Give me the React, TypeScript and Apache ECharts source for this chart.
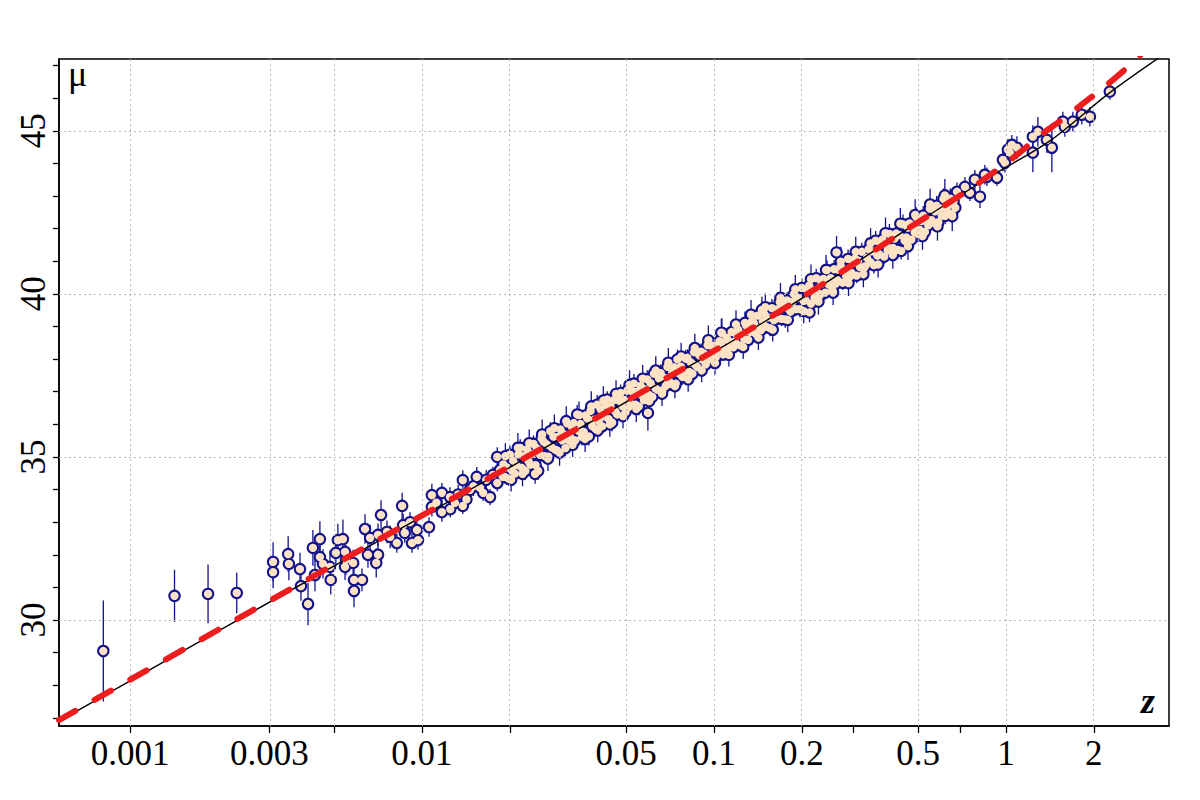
import React, { useEffect, useRef } from "react";
import * as echarts from "echarts";

// ---- data: [z, mu, sigma_mu] ----
const lowZ: number[][] = [
  [0.00081, 29.05, 1.55], [0.00142, 30.74, 0.8], [0.00185, 30.8, 0.9], [0.00232, 30.83, 0.62],
  [0.00309, 31.78, 0.6], [0.00309, 31.47, 0.5], [0.00348, 32.02, 0.55], [0.0035, 31.72, 0.5],
  [0.00382, 31.56, 0.5], [0.00385, 31.04, 0.45], [0.00407, 30.49, 0.65], [0.00423, 32.21, 0.55],
  [0.00447, 32.48, 0.55], [0.00447, 31.93, 0.5], [0.00458, 31.72, 0.45], [0.0043, 31.38, 0.5],
  [0.00484, 31.63, 0.5], [0.00487, 31.23, 0.45], [0.00515, 32.45, 0.5], [0.00536, 32.48, 0.6],
  [0.00507, 32.06, 0.4], [0.00545, 32.09, 0.4], [0.00549, 31.84, 0.45], [0.00545, 31.63, 0.4],
  [0.00581, 31.75, 0.4], [0.00585, 31.23, 0.4], [0.00585, 30.89, 0.5], [0.00623, 31.23, 0.35],
  [0.00638, 32.79, 0.45], [0.00664, 32.52, 0.4], [0.00653, 32.0, 0.4], [0.00707, 32.0, 0.35],
  [0.00697, 31.75, 0.45], [0.00724, 33.22, 0.45], [0.00707, 32.61, 0.35], [0.00759, 32.7, 0.35],
  [0.00778, 32.55, 0.35], [0.0082, 32.36, 0.3], [0.00855, 33.5, 0.4], [0.00862, 32.91, 0.35],
  [0.00873, 32.67, 0.3], [0.00924, 32.36, 0.3], [0.0091, 33.0, 0.3], [0.00961, 32.76, 0.35],
  [0.00969, 32.45, 0.3], [0.01057, 32.85, 0.3], [0.01081, 33.83, 0.35], [0.01081, 33.47, 0.3],
  [0.0112, 33.6, 0.3], [0.0117, 33.9, 0.3], [0.0117, 33.31, 0.3], [0.0125, 33.4, 0.25],
  [0.01247, 33.77, 0.3], [0.01297, 33.59, 0.25], [0.0133, 33.85, 0.3], [0.0138, 33.5, 0.25],
  [0.0138, 34.29, 0.3], [0.0142, 33.7, 0.25], [0.0146, 33.99, 0.25], [0.015, 34.1, 0.3],
  [0.0154, 34.39, 0.3], [0.0158, 34.05, 0.25], [0.0162, 33.9, 0.25], [0.0166, 34.3, 0.3],
  [0.0171, 33.77, 0.25], [0.0175, 34.45, 0.25], [0.0181, 35.0, 0.3], [0.0181, 34.2, 0.25],
  [0.0185, 34.6, 0.3], [0.0189, 34.39, 0.25],
];

const band1: number[][] = [
  [0.019, 34.77, 0.22], [0.0192, 34.39, 0.18], [0.0195, 34.68, 0.25], [0.0198, 34.33, 0.2],
  [0.02, 35.07, 0.28], [0.0203, 34.59, 0.16], [0.0205, 34.89, 0.2], [0.0208, 34.49, 0.24],
  [0.0211, 34.75, 0.18], [0.0214, 35.08, 0.3], [0.0217, 35.28, 0.26], [0.022, 34.66, 0.2],
  [0.0223, 35.02, 0.22], [0.0226, 34.57, 0.28], [0.0229, 35.23, 0.3], [0.0232, 34.86, 0.17],
  [0.0235, 34.76, 0.21], [0.0238, 35.09, 0.24], [0.0241, 35.4, 0.26], [0.0244, 34.48, 0.3],
  [0.0247, 35.27, 0.19], [0.025, 34.57, 0.27], [0.0254, 35.06, 0.22], [0.0257, 35.56, 0.25],
  [0.0261, 35.47, 0.28], [0.0264, 35.02, 0.18], [0.0268, 35.38, 0.2], [0.0271, 35.01, 0.23],
  [0.0275, 35.79, 0.27], [0.0278, 35.29, 0.19], [0.0282, 35.62, 0.24], [0.0286, 35.22, 0.21],
  [0.029, 35.2, 0.18], [0.0294, 35.62, 0.26], [0.0298, 35.84, 0.3], [0.0302, 35.51, 0.17],
  [0.0306, 35.7, 0.22], [0.031, 35.27, 0.25], [0.0314, 36.03, 0.27], [0.0318, 35.5, 0.2],
  [0.0322, 35.61, 0.18], [0.0326, 35.93, 0.23], [0.0331, 36.04, 0.25], [0.0335, 35.51, 0.21],
  [0.034, 36.3, 0.29], [0.0344, 35.8, 0.18], [0.0349, 36.01, 0.2], [0.0353, 35.61, 0.26],
  [0.0358, 35.77, 0.22], [0.0363, 36.27, 0.24], [0.0368, 36.18, 0.19], [0.0373, 35.63, 0.28],
  [0.0378, 36.41, 0.26], [0.0383, 35.94, 0.2], [0.0388, 36.14, 0.21], [0.0393, 35.86, 0.23],
  [0.0398, 36.6, 0.3], [0.0403, 36.1, 0.18], [0.0409, 36.46, 0.24], [0.0414, 35.94, 0.22],
  [0.042, 36.24, 0.18], [0.0425, 36.6, 0.27], [0.0431, 36.76, 0.25], [0.0436, 36.16, 0.2],
  [0.0442, 36.55, 0.22], [0.0448, 36.05, 0.26], [0.0454, 36.74, 0.28], [0.046, 36.39, 0.17],
  [0.0466, 36.3, 0.2], [0.0472, 36.73, 0.24], [0.0479, 36.96, 0.26], [0.0485, 36.56, 0.19],
  [0.0492, 36.75, 0.21], [0.0498, 36.37, 0.25], [0.0505, 37.03, 0.27], [0.0511, 36.53, 0.2],
  [0.0518, 36.64, 0.18], [0.0525, 37.01, 0.23], [0.0532, 37.25, 0.29], [0.0539, 36.6, 0.22],
  [0.0546, 37.0, 0.2], [0.0553, 36.55, 0.27], [0.0561, 37.18, 0.24], [0.0568, 36.88, 0.18],
  [0.0576, 36.74, 0.21], [0.0583, 37.07, 0.25], [0.0591, 37.38, 0.28], [0.0599, 36.9, 0.19],
  [0.0607, 37.26, 0.22], [0.0615, 36.84, 0.24], [0.0623, 37.55, 0.27], [0.0631, 37.1, 0.18],
  [0.064, 37.06, 0.2], [0.0648, 37.41, 0.23], [0.0657, 37.57, 0.26], [0.0666, 37.04, 0.22],
  [0.0675, 37.43, 0.19], [0.0684, 37.18, 0.25], [0.0693, 37.76, 0.28], [0.0702, 37.32, 0.2],
  [0.0711, 37.24, 0.22], [0.072, 37.59, 0.24], [0.073, 37.75, 0.25], [0.074, 37.25, 0.21],
  [0.075, 37.99, 0.3], [0.076, 37.56, 0.18], [0.077, 37.77, 0.21], [0.078, 37.45, 0.24],
  [0.079, 37.58, 0.19], [0.08, 38.01, 0.27], [0.0811, 38.04, 0.26], [0.0822, 37.61, 0.2],
  [0.0833, 37.9, 0.22], [0.0844, 37.55, 0.25], [0.0855, 38.21, 0.28], [0.0866, 37.81, 0.18],
  [0.0878, 37.75, 0.2], [0.089, 38.12, 0.23], [0.0902, 38.23, 0.24], [0.0914, 37.98, 0.19],
  [0.0926, 38.17, 0.21], [0.0938, 37.84, 0.26], [0.0951, 38.43, 0.27], [0.0963, 38.0, 0.2],
  [0.0976, 38.11, 0.19], [0.0988, 38.39, 0.24],
];

const band2: number[][] = [
  [0.1, 38.41, 0.22], [0.1015, 38.06, 0.2], [0.103, 38.28, 0.18], [0.1045, 38.55, 0.26],
  [0.106, 38.49, 0.24], [0.1075, 38.14, 0.2], [0.109, 38.28, 0.19], [0.1105, 38.66, 0.27],
  [0.112, 38.57, 0.21], [0.1135, 38.37, 0.23], [0.115, 38.83, 0.28], [0.1165, 38.36, 0.2],
  [0.118, 38.54, 0.18], [0.1195, 38.76, 0.24], [0.121, 38.9, 0.27], [0.123, 38.42, 0.22],
  [0.125, 38.77, 0.2], [0.127, 38.62, 0.25], [0.129, 39.02, 0.26], [0.131, 38.59, 0.21],
  [0.133, 38.83, 0.19], [0.135, 39.16, 0.27], [0.137, 39.1, 0.24], [0.139, 38.78, 0.2],
  [0.141, 39.33, 0.28], [0.143, 38.95, 0.18], [0.145, 38.89, 0.21], [0.147, 39.16, 0.24],
  [0.149, 39.37, 0.27], [0.151, 38.99, 0.2], [0.153, 39.28, 0.22], [0.1555, 38.95, 0.25],
  [0.158, 39.56, 0.28], [0.1605, 39.19, 0.19], [0.163, 39.23, 0.2], [0.1655, 39.53, 0.24],
  [0.168, 39.75, 0.27], [0.1705, 39.23, 0.22], [0.173, 39.6, 0.21], [0.1755, 39.22, 0.26],
  [0.178, 39.8, 0.25], [0.1805, 39.53, 0.19], [0.183, 39.45, 0.2], [0.1855, 39.75, 0.24],
  [0.188, 39.99, 0.28], [0.191, 39.53, 0.2], [0.194, 39.88, 0.22], [0.197, 39.53, 0.25],
  [0.2, 40.18, 0.29], [0.203, 39.78, 0.19], [0.206, 39.81, 0.21], [0.209, 40.11, 0.24],
  [0.212, 40.25, 0.26], [0.215, 39.7, 0.22], [0.218, 40.11, 0.2], [0.221, 39.88, 0.24],
  [0.224, 40.48, 0.29], [0.227, 40.03, 0.2], [0.23, 39.94, 0.21], [0.2335, 40.31, 0.25],
  [0.237, 40.46, 0.26], [0.2405, 40.04, 0.22], [0.244, 40.73, 0.3], [0.2475, 40.28, 0.19],
  [0.251, 40.48, 0.22], [0.2545, 40.12, 0.26], [0.258, 40.76, 0.28], [0.2615, 40.31, 0.2],
  [0.265, 40.42, 0.21], [0.2685, 40.72, 0.25], [0.272, 40.84, 0.27], [0.276, 40.34, 0.22],
  [0.28, 40.71, 0.2], [0.284, 40.54, 0.24], [0.288, 41.07, 0.29], [0.292, 40.52, 0.21],
  [0.296, 40.64, 0.2], [0.3, 40.94, 0.25], [0.304, 41.08, 0.27], [0.308, 40.56, 0.23],
  [0.312, 41.02, 0.21], [0.3165, 40.82, 0.24], [0.321, 41.29, 0.28], [0.3255, 40.77, 0.22],
  [0.33, 40.85, 0.2], [0.3345, 41.1, 0.25], [0.339, 41.37, 0.27], [0.3435, 40.97, 0.21],
  [0.348, 41.3, 0.24], [0.353, 40.88, 0.26], [0.358, 41.63, 0.3], [0.363, 41.17, 0.2],
  [0.368, 41.22, 0.22], [0.373, 41.52, 0.26], [0.378, 41.67, 0.28], [0.383, 41.14, 0.22],
  [0.388, 41.5, 0.21], [0.3935, 41.33, 0.25], [0.399, 41.84, 0.3], [0.4045, 41.32, 0.22],
  [0.41, 41.41, 0.2], [0.4155, 41.69, 0.26], [0.421, 41.85, 0.28], [0.4265, 41.35, 0.24],
  [0.432, 41.8, 0.25], [0.438, 41.32, 0.27], [0.444, 42.13, 0.3], [0.45, 41.63, 0.22],
  [0.456, 41.73, 0.21], [0.462, 42.03, 0.26], [0.468, 42.16, 0.28], [0.4745, 41.66, 0.24],
  [0.481, 42.08, 0.25], [0.4875, 41.88, 0.22], [0.494, 42.35, 0.3], [0.5005, 41.83, 0.25],
  [0.507, 41.96, 0.22], [0.514, 42.23, 0.27], [0.521, 42.4, 0.29], [0.528, 41.9, 0.24],
  [0.535, 42.3, 0.25], [0.542, 42.1, 0.23], [0.549, 42.61, 0.31], [0.5565, 42.26, 0.22],
  [0.564, 42.18, 0.24], [0.5715, 42.53, 0.28], [0.579, 42.7, 0.3], [0.587, 42.2, 0.25],
  [0.595, 42.62, 0.27], [0.603, 42.4, 0.24], [0.611, 42.91, 0.32], [0.6195, 42.39, 0.26],
  [0.628, 42.56, 0.25], [0.6365, 42.74, 0.28], [0.645, 42.92, 0.31], [0.6535, 42.44, 0.26],
  [0.662, 42.84, 0.3], [0.671, 42.64, 0.27],
];

// points along the upper and lower rims of the dense band
const bandEdges: number[][] = [
  [0.0193, 35.02, 0.4], [0.0202, 34.3, 0.36], [0.0213, 35.28, 0.45], [0.0221, 34.48, 0.38],
  [0.0233, 35.42, 0.42], [0.0245, 34.75, 0.35], [0.0258, 35.69, 0.46], [0.027, 34.95, 0.38],
  [0.0284, 35.88, 0.42], [0.0296, 35.13, 0.4], [0.0312, 36.1, 0.45], [0.0328, 35.37, 0.37],
  [0.0345, 36.28, 0.42], [0.0362, 35.55, 0.4], [0.038, 36.55, 0.46], [0.04, 35.81, 0.36],
  [0.0418, 36.73, 0.44], [0.044, 36.0, 0.38], [0.0462, 36.93, 0.42], [0.0488, 36.25, 0.37],
  [0.0514, 37.21, 0.45], [0.0542, 36.47, 0.4], [0.057, 37.4, 0.42], [0.06, 36.71, 0.36],
  [0.0632, 37.65, 0.44], [0.0664, 36.94, 0.38], [0.0698, 37.89, 0.45], [0.0735, 37.17, 0.37],
  [0.0772, 38.08, 0.42], [0.0816, 37.38, 0.38], [0.086, 38.34, 0.44], [0.0908, 37.65, 0.36],
  [0.0957, 38.58, 0.45],
  [0.1008, 37.88, 0.36], [0.106, 38.81, 0.42], [0.1125, 38.13, 0.36], [0.119, 39.06, 0.44],
  [0.126, 38.37, 0.37], [0.134, 39.36, 0.45], [0.142, 38.66, 0.38], [0.15, 39.59, 0.42],
  [0.159, 38.9, 0.36], [0.169, 39.88, 0.45], [0.179, 39.2, 0.38], [0.19, 40.14, 0.44],
  [0.203, 39.47, 0.37], [0.215, 40.45, 0.45], [0.228, 39.76, 0.4], [0.242, 40.73, 0.46],
  [0.256, 40.04, 0.38], [0.272, 40.99, 0.45], [0.289, 40.33, 0.4], [0.306, 41.29, 0.46],
  [0.325, 40.6, 0.4], [0.344, 41.55, 0.46], [0.365, 40.9, 0.4], [0.387, 41.86, 0.48],
  [0.41, 41.19, 0.42], [0.435, 42.15, 0.48], [0.462, 41.46, 0.42], [0.489, 42.42, 0.48],
  [0.518, 41.77, 0.42], [0.55, 42.74, 0.48], [0.583, 42.07, 0.44], [0.618, 43.02, 0.5],
  [0.655, 42.38, 0.45],
];

const highZ: number[][] = [
  [0.658, 42.88, 0.25], [0.68, 43.13, 0.28], [0.724, 43.28, 0.3], [0.753, 43.1, 0.25],
  [0.783, 43.5, 0.3], [0.815, 42.98, 0.35], [0.847, 43.65, 0.3], [0.861, 43.59, 0.28],
  [0.932, 43.56, 0.25], [0.977, 44.11, 0.35], [0.992, 44.02, 0.3], [1.016, 44.42, 0.32],
  [1.048, 44.57, 0.3], [1.091, 44.48, 0.35], [1.032, 44.33, 0.3], [1.237, 44.82, 0.35],
  [1.237, 44.33, 0.6], [1.287, 44.97, 0.45], [1.382, 44.72, 0.4], [1.437, 44.48, 0.75],
  [1.567, 45.28, 0.3], [1.592, 45.12, 0.3], [1.696, 45.28, 0.3], [1.82, 45.49, 0.3],
  [1.94, 45.43, 0.3], [2.27, 46.2, 0.25],
];

const outliers: number[][] = [
  [0.0594, 36.35, 0.54], [0.1065, 38.8, 0.45], [0.1277, 39.11, 0.35],
  [0.146, 39.51, 0.4], [0.263, 41.27, 0.5], [0.2125, 39.43, 0.3],
];

// model curves: [z, mu]
const blackLine: number[][] = [
  [0.000571, 26.9], [0.002576, 30.21], [0.01065, 33.31], [0.0407, 36.23], [0.1, 38.22],
  [0.197, 39.82], [0.4335, 41.84], [0.8815, 43.59], [1.415, 44.69], [2.27, 46.17], [3.62, 47.45],
];
const redLine: number[][] = [
  [0.000571, 26.93], [0.002576, 30.25], [0.01065, 33.34], [0.0407, 36.26], [0.1, 38.25],
  [0.197, 39.85], [0.4335, 41.84], [0.765, 43.25], [0.9026, 43.71], [1.091, 44.26],
  [1.297, 44.82], [1.555, 45.34], [1.835, 45.83], [2.2, 46.38], [2.596, 46.93], [2.99, 47.45],
];

// axes
const xRange = [0.000571, 3.62];
const yRange = [26.75, 47.2];
const xTickVals = [0.001, 0.003, 0.005, 0.01, 0.02, 0.05, 0.1, 0.2, 0.3, 0.5, 0.7, 1, 2];
const xGridVals = [0.001, 0.003, 0.005, 0.01, 0.02, 0.05, 0.1, 0.2, 0.5, 1, 2];
const xLabelText = ["0.001", "0.003", "0.01", "0.05", "0.1", "0.2", "0.5", "1", "2"];
const yTickVals = [27, 28, 29, 30, 31, 32, 33, 34, 35, 36, 37, 38, 39, 40, 41, 42, 43, 44, 45, 46, 47];
const yLabelVals = [30, 35, 40, 45];

const NAVY = "#12128c";
const BEIGE = "#fde2c4";
const SERIF = "Liberation Serif";

export default function App() {
  const ref = useRef<HTMLDivElement>(null);
  useEffect(() => {
    if (!ref.current) return;
    const chart = echarts.init(ref.current, null, { renderer: "svg" });
    const lg = (v: number) => Math.log10(v);
    const pts = [...lowZ, ...band1, ...band2, ...bandEdges, ...highZ, ...outliers].map((d) => [lg(d[0]), d[1], d[2]]);
    const labelLogs = xLabelText.map((s) => lg(parseFloat(s)));
    const gridStyle = { type: [2, 3] as any, color: "#b8b8b8", width: 1 };

    chart.setOption({
      animation: false,
      grid: { left: 59, right: 31, top: 59, bottom: 74, show: true, borderColor: "#000", borderWidth: 1.5, backgroundColor: "transparent" },
      xAxis: {
        type: "value",
        min: lg(xRange[0]),
        max: lg(xRange[1]),
        axisLine: { show: true, onZero: false, lineStyle: { color: "#000", width: 1.5 } },
        axisTick: { show: true, length: 7, lineStyle: { color: "#000", width: 1.3 }, customValues: xTickVals.map(lg) },
        axisLabel: {
          customValues: labelLogs,
          formatter: (v: number) => {
            const i = labelLogs.findIndex((l) => Math.abs(l - v) < 1e-6);
            return i >= 0 ? xLabelText[i] : "";
          },
          fontFamily: SERIF,
          fontSize: 35,
          color: "#000",
          margin: 10,
        },
        splitLine: { show: false },
      },
      yAxis: {
        type: "value",
        min: yRange[0],
        max: yRange[1],
        axisLine: { show: true, onZero: false, lineStyle: { color: "#000", width: 1.5 } },
        axisTick: { show: true, length: 6, lineStyle: { color: "#000", width: 1.3 }, customValues: yTickVals },
        axisLabel: { customValues: yLabelVals, rotate: 90, fontFamily: SERIF, fontSize: 35, color: "#000", margin: 8 },
        splitLine: { show: false },
      },
      graphic: [
        { type: "text", left: 68, top: 56, z: 100, style: { text: "μ", fontSize: 36, fontFamily: SERIF, fill: "#000" } },
        { type: "text", left: 1141, top: 683, z: 100, style: { text: "z", fontSize: 36, fontFamily: SERIF, fontStyle: "italic", fontWeight: "bold", fill: "#000" } },
      ],
      series: [
        {
          type: "line",
          data: [],
          z: 1,
          silent: true,
          markLine: {
            silent: true,
            symbol: ["none", "none"],
            label: { show: false },
            lineStyle: gridStyle,
            data: [...xGridVals.map((v) => ({ xAxis: lg(v) })), ...yLabelVals.map((v) => ({ yAxis: v }))],
          },
        },
        {
          type: "custom",
          z: 2,
          silent: true,
          data: pts,
          encode: { x: 0, y: 1 },
          renderItem: (_p: any, api: any) => {
            const x = api.value(0), y = api.value(1), e = api.value(2);
            const a = api.coord([x, y - e]);
            const b = api.coord([x, y + e]);
            return { type: "line", shape: { x1: a[0], y1: a[1], x2: b[0], y2: b[1] }, style: { stroke: NAVY, lineWidth: 1.3 } };
          },
        },
        { type: "scatter", z: 3, silent: true, data: pts.map((p) => [p[0], p[1]]), symbol: "circle", symbolSize: 12.5, itemStyle: { color: NAVY, opacity: 1 } },
        { type: "scatter", z: 4, silent: true, data: pts.map((p) => [p[0], p[1]]), symbol: "circle", symbolSize: 8.3, itemStyle: { color: BEIGE, opacity: 1 } },
        {
          type: "line", z: 5, silent: true, showSymbol: false, smooth: 0.3,
          data: blackLine.map((d) => [lg(d[0]), d[1]]),
          lineStyle: { color: "#000", width: 1.4 },
        },
        {
          type: "line", z: 6, silent: true, showSymbol: false, smooth: 0.3,
          data: redLine.map((d) => [lg(d[0]), d[1]]),
          lineStyle: { color: "#ee1d1d", width: 6, type: [19, 22], cap: "round" },
        },
      ],
    });
    return () => chart.dispose();
  }, []);
  return <div ref={ref} style={{ position: "fixed", left: 0, top: 0, width: 1200, height: 800, background: "#fff" }} />;
}
